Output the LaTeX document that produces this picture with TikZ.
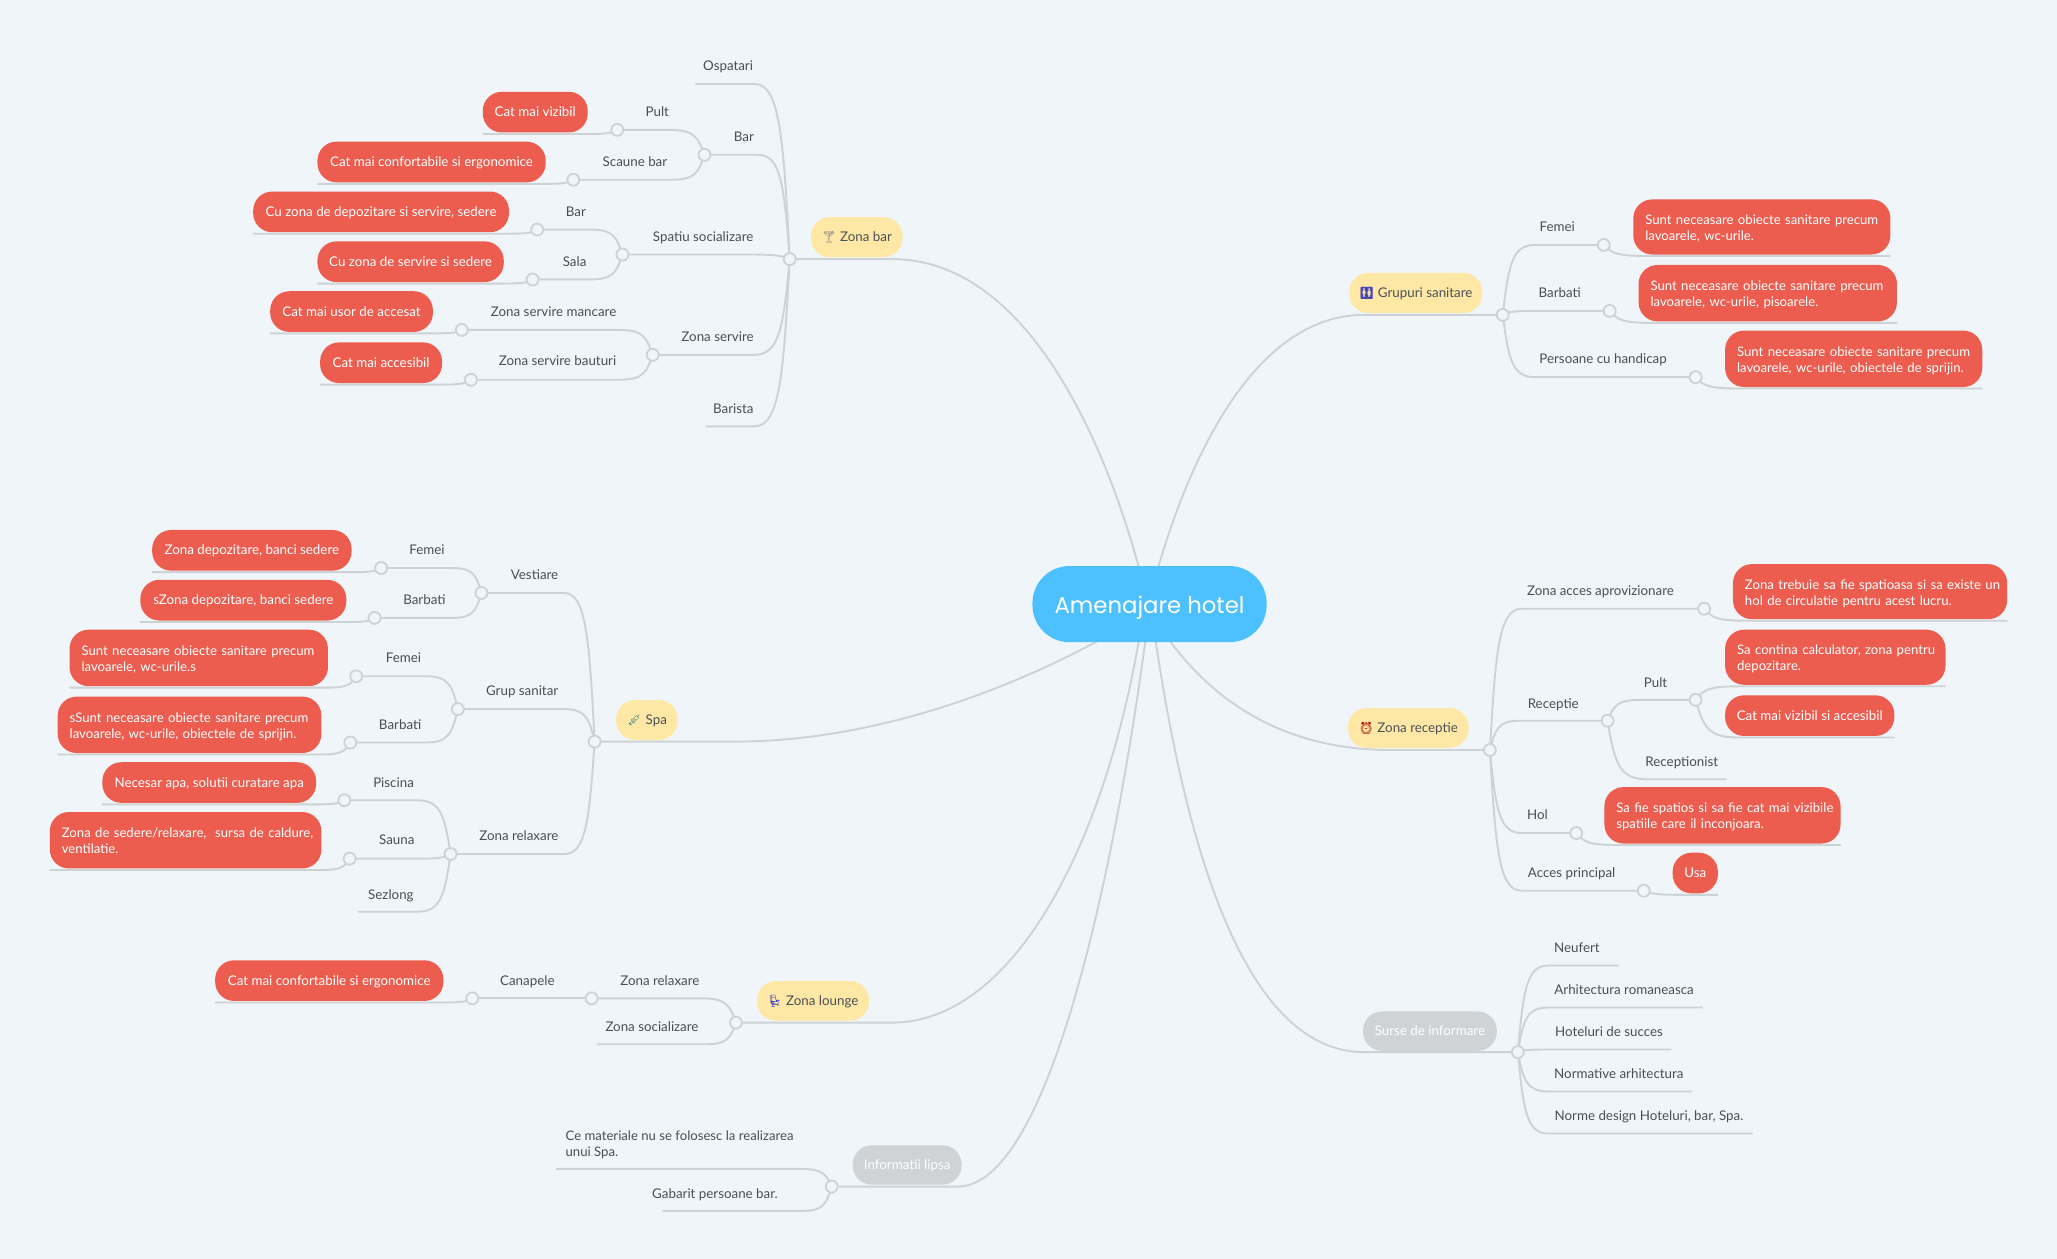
\documentclass[tikz,border=0pt]{standalone}
\usepackage{fontspec}
\setmainfont{Lato}
\newfontfamily\titlefont{Poppins}
\newfontfamily\emojifont{Noto Emoji}
\usetikzlibrary{backgrounds,calc}
\definecolor{bgc}{HTML}{EFF5F8}
\definecolor{linec}{HTML}{CDD2D5}
\definecolor{txt}{HTML}{4A4F57}
\definecolor{redc}{HTML}{EC5D4F}
\definecolor{yelc}{HTML}{FFE8A6}
\definecolor{bluc}{HTML}{4DC0FF}
\definecolor{grayc}{HTML}{CFD3D6}
\tikzset{
  conn/.style={draw=linec,line width=1.9pt},
  joint/.style={circle,draw=linec,fill=bgc,line width=1.8pt,minimum size=12pt,inner sep=0pt},
  lbl/.style={font=\fontsize{13.35}{16}\selectfont,text=txt,inner sep=0pt,text height=14.2pt,text depth=3.8pt},
  lblmulti/.style={font=\fontsize{13.15}{16}\selectfont,text=txt,inner sep=0pt,align=left},
  pillbase/.style={rectangle,rounded corners=19pt,inner sep=0pt,font=\fontsize{13.35}{16}\selectfont},
  oneline/.style={pillbase,text height=13pt,text depth=4pt,align=center},
  redpill/.style={oneline,fill=redc,text=white},
  redtwo/.style={pillbase,font=\fontsize{13.15}{16}\selectfont,fill=redc,text=white,align=left,inner xsep=12pt},
  yelpill/.style={oneline,fill=yelc,text=txt},
  graypill/.style={oneline,fill=grayc,text=white},
  rootpill/.style={rectangle,rounded corners=37pt,inner sep=0pt,fill=bluc,text=white,font=\titlefont\fontsize{22.8}{28}\selectfont,text height=19pt,text depth=1pt}
}
\newcommand\dotpill[7]{\pgfmathsetmacro\pw{(#4-#3)*1.3119}\pgfmathsetmacro\ph{(#6-#5)*1.3119}%
  \node[#1,minimum width=\pw pt,minimum height=\ph pt] (#2) at ({(#3+#4)/2},{(#5+#6)/2}) {#7};}
\newcommand\dottwo[7]{\pgfmathsetmacro\pw{(#4-#3)*1.3119}\pgfmathsetmacro\ph{(#6-#5)*1.3119}\pgfmathsetmacro\tw{\pw-24}%
  \node[redtwo,text width=\tw pt,minimum height=\ph pt] (#2) at ({(#3+#4)/2},{(#5+#6)/2}) {\mbox{\rule{0pt}{13pt}#1}\\\mbox{\rule[-2pt]{0pt}{2pt}#7}};}
\newcommand\bcurve[3]{\draw[conn] let \p1=(#1),\p2=(#2),\p3=(#3),\n1={\x2+0.72*(\x3-\x2)},\n2={\x2+0.82*(\x3-\x2)},\n3={\y1+0.3*(\y3-\y1)} in (\p1) -- (\x2,\y1) .. controls (\n1,\y1) and (\n2,\n3) .. (\p3);}
\newcommand\leafL[2]{\bcurve{[yshift=-1.3pt]#1.south west}{#1.south east}{#2}}
\newcommand\leafR[2]{\bcurve{[yshift=-1.3pt]#1.south east}{[xshift=13pt]#1.south west}{#2}}
\newcommand\emo[2]{{\color{#1}\emojifont\fontsize{12}{14}\selectfont #2}\hspace{3.5pt}}
\begin{document}
\begin{tikzpicture}[x=1.3119pt,y=-1.3119pt]
\useasboundingbox (0,0) rectangle (1568,959.67);
\begin{scope}[on background layer]
\fill[bgc] (0,0) rectangle (1568,959.67);
\end{scope}
% root
\dotpill{rootpill}{root}{787}{965.5}{431.5}{489.5}{Amenajare hotel}
\coordinate (rTa) at (868,432);
\coordinate (rTb) at (883,432);
\coordinate (rBa) at (836,489);
\coordinate (rBb) at (868,489);
\coordinate (rBc) at (873,489);
\coordinate (rBd) at (881,489);
\coordinate (rBe) at (892,489);
% ---- Zona bar
\dotpill{yelpill}{zbar}{618}{688}{165.5}{196}{\emo{black!45}{🍸}Zona bar}
\node[joint] (jbar) at (602,197.5) {};
\node[lbl] (ospT) at (555,50) {Ospatari};
\coordinate (ospE) at (530,64);
\node[lbl] (barisT) at (559,311) {Barista};
\coordinate (barisE) at (538,325);
\node[lbl] (barT) at (567,104) {Bar};
\node[joint] (jb1) at (537,118) {};
\node[lbl] (pultT) at (501,85) {Pult};
\node[joint] (jpult) at (470.5,99) {};
\dotpill{redpill}{p1}{368}{448}{70}{101}{Cat mai vizibil}
\node[lbl] (scT) at (484,123) {Scaune bar};
\node[joint] (jsc) at (437,137) {};
\dotpill{redpill}{p2}{242}{416}{108}{139}{Cat mai confortabile si ergonomice}
\node[lbl] (spT) at (536,180) {Spatiu socializare};
\node[joint] (jsp) at (474.5,194) {};
\node[lbl] (b2T) at (439,161) {Bar};
\node[joint] (jb2) at (409.5,175) {};
\dotpill{redpill}{p3}{193}{388}{146}{177}{Cu zona de depozitare si servire, sedere}
\node[lbl] (salT) at (438,199) {Sala};
\node[joint] (jsal) at (406,213) {};
\dotpill{redpill}{p4}{242}{384}{184}{215}{Cu zona de servire si sedere}
\node[lbl] (zsT) at (547,256.5) {Zona servire};
\node[joint] (jzs) at (497.5,270.5) {};
\node[lbl] (zmT) at (422,237) {Zona servire mancare};
\node[joint] (jzm) at (352,251.5) {};
\dotpill{redpill}{p5}{206}{330}{222}{253}{Cat mai usor de accesat}
\node[lbl] (zbT) at (425,275) {Zona servire bauturi};
\node[joint] (jzb) at (359,289.5) {};
\dotpill{redpill}{p6}{244}{337}{261}{292}{Cat mai accesibil}
% ---- Grupuri sanitare
\dotpill{yelpill}{grup}{1028.5}{1130}{208}{238.5}{\emo{blue!45!gray}{🚻}Grupuri sanitare}
\node[joint] (jgr) at (1145.5,240) {};
\node[lbl] (gfT) at (1187,172.5) {Femei};
\node[joint] (jgf) at (1222.5,186.7) {};
\dottwo{Sunt neceasare obiecte sanitare precum}{p7}{1245}{1441}{152}{194}{lavoarele, wc-urile.}
\node[lbl] (gbT) at (1189,223) {Barbati};
\node[joint] (jgb) at (1227,237) {};
\dottwo{Sunt neceasare obiecte sanitare precum}{p8}{1249}{1446}{202}{245}{lavoarele, wc-urile, pisoarele.}
\node[lbl] (ghT) at (1222,273) {Persoane cu handicap};
\node[joint] (jgh) at (1292.5,287.5) {};
\dottwo{Sunt neceasare obiecte sanitare precum}{p9}{1315}{1511}{252}{295}{lavoarele, wc-urile, obiectele de sprijin.}
% ---- Zona receptie
\dotpill{yelpill}{zrec}{1027.5}{1119.5}{539.7}{570}{\emo{red!65!black}{⏰}Zona receptie}
\node[joint] (jrec) at (1135.7,571.7) {};
\node[lbl] (raT) at (1220,450) {Zona acces aprovizionare};
\node[joint] (jra) at (1299,464) {};
\dottwo{Zona trebuie sa fie spatioasa si sa existe un}{p10}{1321}{1530}{430}{472}{hol de circulatie pentru acest lucru.}
\node[lbl] (rrT) at (1184,536) {Receptie};
\node[joint] (jrr) at (1225.4,549.4) {};
\node[lbl] (rpT) at (1262,520) {Pult};
\node[joint] (jrp) at (1292.5,533.5) {};
\dottwo{Sa contina calculator, zona pentru}{p11}{1315}{1483}{480}{522}{depozitare.}
\dotpill{redpill}{p12}{1315}{1444}{530}{561}{Cat mai vizibil si accesibil}
\node[lbl] (rnT) at (1282,580) {Receptionist};
\coordinate (rnE) at (1316,594);
\node[lbl] (rhT) at (1172,621) {Hol};
\node[joint] (jrh) at (1201.5,635) {};
\dottwo{Sa fie spatios si sa fie cat mai vizibile}{p13}{1223}{1403}{600}{643}{spatiile care il inconjoara.}
\node[lbl] (rcT) at (1198,665) {Acces principal};
\node[joint] (jrc) at (1253,679) {};
\dotpill{redpill}{p14}{1275}{1309.5}{650}{681}{Usa}
% ---- Surse de informare
\dotpill{graypill}{surse}{1039}{1141}{771}{801}{Surse de informare}
\node[joint] (jsu) at (1157,802) {};
\node[lbl] (s1T) at (1202,722) {Neufert};
\coordinate (s1E) at (1234,736);
\node[lbl] (s2T) at (1238,754) {Arhitectura romaneasca};
\coordinate (s2E) at (1298,768);
\node[lbl] (s3T) at (1226.5,786) {Hoteluri de succes};
\coordinate (s3E) at (1274,800);
\node[lbl] (s4T) at (1234,818) {Normative arhitectura};
\coordinate (s4E) at (1290,832);
\node[lbl] (s5T) at (1257,850) {Norme design Hoteluri, bar, Spa.};
\coordinate (s5E) at (1336,864);
% ---- Spa
\dotpill{yelpill}{spa}{469.6}{516.6}{533.6}{564}{\emo{teal!60!gray}{💉}Spa}
\node[joint] (jspa) at (453.3,565.3) {};
\node[lbl] (vT) at (407.5,438) {Vestiare};
\node[joint] (jv) at (367,452) {};
\node[lbl] (vfT) at (325.5,419) {Femei};
\node[joint] (jvf) at (290.5,433) {};
\dotpill{redpill}{p15}{116}{268}{404}{435}{Zona depozitare, banci sedere}
\node[lbl] (vbT) at (323.5,457) {Barbati};
\node[joint] (jvb) at (285.5,471) {};
\dotpill{redpill}{p16}{107}{264}{442}{473}{sZona depozitare, banci sedere}
\node[lbl] (gsT) at (398,526) {Grup sanitar};
\node[joint] (jgs) at (349,540.5) {};
\node[lbl] (gsfT) at (307.5,501) {Femei};
\node[joint] (jgsf) at (271.5,515.5) {};
\dottwo{Sunt neceasare obiecte sanitare precum}{p17}{53}{250}{480}{523}{lavoarele, wc-urile.s}
\node[lbl] (gsbT) at (305,552) {Barbati};
\node[joint] (jgsb) at (267,566) {};
\dottwo{sSunt neceasare obiecte sanitare precum}{p18}{44}{245}{531}{574}{lavoarele, wc-urile, obiectele de sprijin.}
\node[lbl] (zrT) at (395.5,637) {Zona relaxare};
\node[joint] (jzr) at (343.5,651) {};
\node[lbl] (piT) at (300,596) {Piscina};
\node[joint] (jpi) at (262.5,610) {};
\dotpill{redpill}{p19}{78}{241}{581}{612}{Necesar apa, solutii curatare apa}
\node[lbl] (saT) at (302.5,640) {Sauna};
\node[joint] (jsa) at (266.5,654.5) {};
\dottwo{Zona de sedere/relaxare,\ \ sursa de caldure,}{p20}{38}{245}{619}{662}{ventilatie.}
\node[lbl] (seT) at (298,681.5) {Sezlong};
\coordinate (seE) at (273,695);
% ---- Zona lounge
\dotpill{yelpill}{zlou}{577}{662.4}{747.8}{778}{\emo{blue!55!gray}{💺}Zona lounge}
\node[joint] (jlo) at (561,779.5) {};
\node[lbl] (lrT) at (503,747) {Zona relaxare};
\node[joint] (jlr) at (451,761) {};
\node[lbl] (lcT) at (402,747) {Canapele};
\node[joint] (jlc) at (360,761) {};
\dotpill{redpill}{p21}{164}{338}{732}{763}{Cat mai confortabile si ergonomice}
\node[lbl] (lsT) at (497,782) {Zona socializare};
\coordinate (lsE) at (455,796);
% ---- Informatii lipsa
\dotpill{graypill}{info}{650}{733}{873}{903}{Informatii lipsa}
\node[joint] (jin) at (634,904.5) {};
\node[lblmulti,anchor=north west] (i1T) at (431,861.5) {Ce materiale nu se folosesc la realizarea\\unui Spa.};
\coordinate (i1E) at (424,891);
\node[lbl] (i2T) at (545,909.5) {Gabarit persoane bar.};
\coordinate (i2E) at (505,923);
% ---- connectors
\begin{scope}[on background layer]
\draw[conn] (jbar) -- (680,197.5) .. controls (780,197.5) and (840,330) .. (rTa);
\draw[conn] (jgr) -- (1040,240) .. controls (960,240) and (910,340) .. (rTb);
\draw[conn] (jrec) -- (1060,571.7) .. controls (985,571.7) and (930,540) .. (rBe);
\draw[conn] (jsu) -- (1040,802) .. controls (950,802) and (905,650) .. (rBd);
\draw[conn] (jspa) -- (560,565.3) .. controls (660,565.3) and (760,530) .. (rBa);
\draw[conn] (jlo) -- (680,779.5) .. controls (770,779.5) and (840,650) .. (rBb);
\draw[conn] (jin) -- (730,904.5) .. controls (800,904.5) and (850,660) .. (rBc);
% bar
\bcurve{ospE}{575,0}{jbar}
\bcurve{barisE}{575,0}{jbar}
\bcurve{jb1}{578,0}{jbar}
\bcurve{jsp}{570,0}{jbar}
\bcurve{jzs}{575,0}{jbar}
\bcurve{jpult}{510,0}{jb1}
\bcurve{jsc}{512,0}{jb1}
\bcurve{jb2}{450,0}{jsp}
\bcurve{jsal}{450,0}{jsp}
\bcurve{jzm}{472,0}{jzs}
\bcurve{jzb}{472,0}{jzs}
\leafL{p1}{jpult}
\leafL{p2}{jsc}
\leafL{p3}{jb2}
\leafL{p4}{jsal}
\leafL{p5}{jzm}
\leafL{p6}{jzb}
% grupuri
\bcurve{jgf}{1170,0}{jgr}
\bcurve{jgb}{1170,0}{jgr}
\bcurve{jgh}{1170,0}{jgr}
\leafR{p7}{jgf}
\leafR{p8}{jgb}
\leafR{p9}{jgh}
% receptie
\bcurve{jra}{1160,0}{jrec}
\bcurve{jrr}{1158,0}{jrec}
\bcurve{jrh}{1160,0}{jrec}
\bcurve{jrc}{1160,0}{jrec}
\bcurve{jrp}{1250,0}{jrr}
\bcurve{rnE}{1255,0}{jrr}
\leafR{p10}{jra}
\leafR{p11}{jrp}
\leafR{p12}{jrp}
\leafR{p13}{jrh}
\leafR{p14}{jrc}
% surse
\bcurve{s1E}{1180,0}{jsu}
\bcurve{s2E}{1180,0}{jsu}
\bcurve{s3E}{1180,0}{jsu}
\bcurve{s4E}{1180,0}{jsu}
\bcurve{s5E}{1180,0}{jsu}
% spa
\bcurve{jv}{430,0}{jspa}
\bcurve{jgs}{430,0}{jspa}
\bcurve{jzr}{430,0}{jspa}
\bcurve{jvf}{345,0}{jv}
\bcurve{jvb}{345,0}{jv}
\bcurve{jgsf}{325,0}{jgs}
\bcurve{jgsb}{325,0}{jgs}
\bcurve{jpi}{318,0}{jzr}
\bcurve{jsa}{320,0}{jzr}
\bcurve{seE}{318,0}{jzr}
\leafL{p15}{jvf}
\leafL{p16}{jvb}
\leafL{p17}{jgsf}
\leafL{p18}{jgsb}
\leafL{p19}{jpi}
\leafL{p20}{jsa}
% lounge
\bcurve{jlr}{535,0}{jlo}
\bcurve{lsE}{538,0}{jlo}
\draw[conn] (jlc) -- (jlr);
\leafL{p21}{jlc}
% informatii
\bcurve{i1E}{610,0}{jin}
\bcurve{i2E}{612,0}{jin}
\end{scope}
\end{tikzpicture}
\end{document}
